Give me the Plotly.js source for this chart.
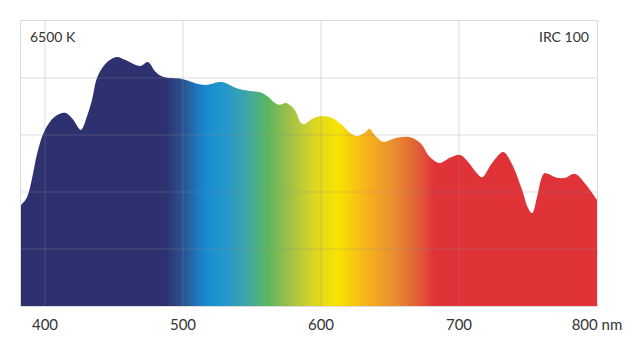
<!DOCTYPE html>
<html>
<head>
<meta charset="utf-8">
<script src="https://cdn.plot.ly/plotly-3.0.1.min.js"></script>
<style>html,body{margin:0;padding:0;background:#fff;}#chart{width:640px;height:345px;}</style>
</head>
<body>
<div id="chart"></div>
<script>
// Wavelength (nm) and relative spectral power
const wavelength = [382.6,387,395,400,407,414.5,420,426,430,434,438,445,452,458,469,474.6,480,485.5,500,512,517,528,539,548.5,556,561.6,566.7,570,574.6,581,585,587.7,593.5,599,608,615,621,626,632,635,639,645,655,664.5,672,679,686,693.5,701,706.5,713,716.7,724,732,738,745.7,750,753,756.5,760,762,771,777,784,791,800];
const power = [1.77,1.91,2.74,3.09,3.32,3.39,3.28,3.09,3.30,3.61,4.02,4.28,4.37,4.32,4.21,4.28,4.11,4.02,3.98,3.89,3.88,3.93,3.82,3.77,3.75,3.67,3.56,3.53,3.56,3.44,3.23,3.19,3.28,3.33,3.30,3.18,3.04,2.98,3.05,3.11,3.00,2.88,2.95,2.96,2.86,2.61,2.51,2.60,2.65,2.53,2.33,2.26,2.51,2.70,2.51,2.04,1.72,1.63,1.91,2.26,2.33,2.25,2.25,2.32,2.16,1.86];
const tickValues = [400,500,600,700,800];
const tickLabels = ['400','500','600','700','800 nm'];
const labelLeft = '6500 K';
const labelRight = 'IRC 100';
// spectrum colour stops (nm, colour)
const stopNm = [382.6,487,500,513,520,533,548,561,577,597,612,630,655,672,682,800];
const stopColor = ['#2e3170','#2e3170','#2a5290','#1a80c8','#1a90d0','#2898c8','#40a8a0','#5ab560','#a0c048','#e0d820','#f8e400','#f8b818','#e88a30','#e05838','#e03338','#e03338'];

const xMin = 382.6, xMax = 800;
const colorscale = stopNm.map((n,i)=>[(n-xMin)/(xMax-xMin), stopColor[i]]);

const trace = {
  x: wavelength, y: power, type: 'scatter', mode: 'lines',
  line: {width: 0, shape: 'spline', smoothing: 1, color: 'rgba(0,0,0,0)'},
  fill: 'tozeroy',
  fillgradient: {type: 'horizontal', colorscale: colorscale, start: xMin, stop: xMax},
  hoverinfo: 'skip'
};

const gridColor = 'rgba(140,140,140,0.3)';
const shapes = [];
tickValues.slice(0,4).forEach(v => shapes.push({type:'line', xref:'x', yref:'paper', x0:v, x1:v, y0:0, y1:1, line:{color:gridColor, width:1}, layer:'above'}));
[1,2,3,4].forEach(v => shapes.push({type:'line', xref:'paper', yref:'y', x0:0, x1:1, y0:v, y1:v, line:{color:gridColor, width:1}, layer:'above'}));

const layout = {
  width: 640, height: 345,
  margin: {l: 21, r: 43, t: 21, b: 39},
  paper_bgcolor: '#fff', plot_bgcolor: '#fff',
  showlegend: false,
  font: {family: 'Lato, "Open Sans", sans-serif', size: 14, color: '#333'},
  xaxis: {range: [xMin, xMax], tickvals: tickValues, ticktext: tickLabels, showgrid: false, zeroline: false,
          showline: true, mirror: true, linecolor: '#dcdcdc', linewidth: 1, ticks: '', layer: 'above traces',
          ticklabelstandoff: 5,
          tickfont: {family: 'Lato, sans-serif', size: 15, color: '#333'}, fixedrange: true},
  yaxis: {range: [0, 5], showgrid: false, zeroline: false, showticklabels: false, showline: true, mirror: true,
          linecolor: '#dcdcdc', linewidth: 1, ticks: '', layer: 'above traces', fixedrange: true},
  shapes: shapes,
  annotations: [
    {xref:'paper', yref:'paper', x:0, y:1, xanchor:'left', yanchor:'top', xshift: 7, yshift: -5, text: labelLeft, showarrow:false, font:{family:'Lato, sans-serif', size:14, color:'#333'}},
    {xref:'paper', yref:'paper', x:1, y:1, xanchor:'right', yanchor:'top', xshift: -6, yshift: -5, text: labelRight, showarrow:false, font:{family:'Lato, sans-serif', size:14, color:'#333'}}
  ]
};

Plotly.newPlot('chart', [trace], layout, {displayModeBar: false, staticPlot: true});
</script>
</body>
</html>
